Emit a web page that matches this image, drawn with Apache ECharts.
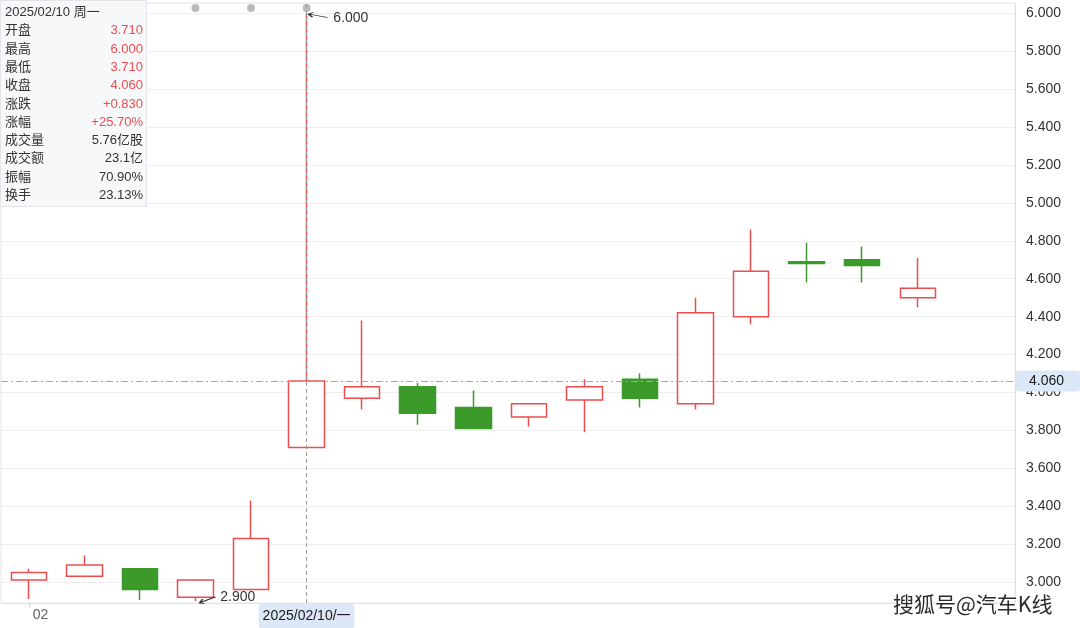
<!DOCTYPE html>
<html><head><meta charset="utf-8">
<script src="https://cdn.jsdelivr.net/npm/echarts@6/dist/echarts.min.js"></script>
<style>html,body{margin:0;padding:0;background:#fff;overflow:hidden}#c{width:1080px;height:628px}</style>
</head><body><div id="c"></div>
<script>
// ---- data ----
const dates  = ['2025/02/03','2025/02/04','2025/02/05','2025/02/06','2025/02/07','2025/02/10','2025/02/11','2025/02/12','2025/02/13','2025/02/14','2025/02/17','2025/02/18','2025/02/19','2025/02/20','2025/02/21','2025/02/24','2025/02/25'];
const opens  = [3.010, 3.030, 3.070, 2.920, 2.960, 3.710, 3.970, 4.030, 3.920, 3.870, 3.960, 4.070, 3.940, 4.400, 4.690, 4.700, 4.500];
const closes = [3.050, 3.090, 2.960, 3.010, 3.230, 4.060, 4.030, 3.890, 3.810, 3.940, 4.030, 3.970, 4.420, 4.640, 4.680, 4.670, 4.550];
const lows   = [2.910, 3.025, 2.905, 2.900, 2.960, 3.710, 3.910, 3.830, 3.810, 3.820, 3.790, 3.920, 3.910, 4.360, 4.580, 4.580, 4.450];
const highs  = [3.070, 3.140, 3.070, 3.010, 3.430, 6.000, 4.380, 4.050, 4.010, 3.940, 4.070, 4.100, 4.500, 4.860, 4.790, 4.770, 4.710];
const eventIdx = [3, 4, 5];
const selIdx = 5;
const selVolume = '5.76亿股';
const selAmount = '23.1亿';
const selTurnover = '23.13%';
const xMonthLabelIdx = [0];
const watermarkText = '搜狐号@汽车K线';

// ---- style ----
const FONT = "Arial, 'Liberation Sans', 'Noto Sans CJK SC', sans-serif";
const RED = '#ec4d4f', GREEN = '#3b9a29', DARK = '#333';
const yMin = 2.889, yMax = 6.055;
const weekCN = ['日','一','二','三','四','五','六'];
function wd(s){ const p = s.split('/').map(Number); return weekCN[new Date(p[0], p[1]-1, p[2]).getDay()]; }

const candleData = dates.map((d, i) => [i, opens[i], closes[i], lows[i], highs[i]]);
let maxIdx = 0, minIdx = 0;
highs.forEach((v, i) => { if (v > highs[maxIdx]) maxIdx = i; });
lows.forEach((v, i) => { if (v <= lows[minIdx]) minIdx = i; });

// info panel
const s = selIdx, prev = closes[s - 1];
const chg = closes[s] - prev, pct = chg / prev * 100, amp = (highs[s] - lows[s]) / prev * 100;
const pc = v => v > prev ? RED : (v < prev ? GREEN : DARK);
const sg = v => (v > 0 ? '+' : '');
const rows = [
  ['开盘', opens[s].toFixed(3), pc(opens[s])],
  ['最高', highs[s].toFixed(3), pc(highs[s])],
  ['最低', lows[s].toFixed(3), pc(lows[s])],
  ['收盘', closes[s].toFixed(3), pc(closes[s])],
  ['涨跌', sg(chg) + chg.toFixed(3), chg > 0 ? RED : GREEN],
  ['涨幅', sg(pct) + pct.toFixed(2) + '%', pct > 0 ? RED : GREEN],
  ['成交量', selVolume, DARK],
  ['成交额', selAmount, DARK],
  ['振幅', amp.toFixed(2) + '%', DARK],
  ['换手', selTurnover, DARK]
];
const PZ = 200;
const panelEls = [{ type: 'rect', z: PZ, shape: { x: 0.5, y: 0.5, width: 146, height: 206 }, style: { fill: '#f7f8fa', stroke: '#e1e4e9', lineWidth: 1 } },
  { type: 'text', z: PZ + 1, style: { text: dates[s] + ' 周' + wd(dates[s]), x: 5, y: 12.5, verticalAlign: 'middle', align: 'left', font: '13px ' + FONT, fill: DARK } }];
rows.forEach((r, i) => {
  const y = 12.5 + (i + 1) * 18.3;
  panelEls.push({ type: 'text', z: PZ + 1, style: { text: r[0], x: 5, y: y, verticalAlign: 'middle', align: 'left', font: '13px ' + FONT, fill: DARK } });
  panelEls.push({ type: 'text', z: PZ + 1, style: { text: r[1], x: 143, y: y, verticalAlign: 'middle', align: 'right', font: '13px ' + FONT, fill: r[2] } });
});

const chart = echarts.init(document.getElementById('c'));
chart.setOption({
  animation: false,
  textStyle: { fontFamily: FONT },
  grid: { left: 1, right: 65, top: 3, bottom: 25, show: true, borderColor: '#e3e6eb', borderWidth: 1, backgroundColor: 'transparent' },
  xAxis: {
    type: 'value', min: -0.5, max: 17.75,
    axisLine: { show: true, onZero: false, lineStyle: { color: '#dfe3ea' } },
    splitLine: { show: false },
    axisTick: { show: true, customValues: xMonthLabelIdx, length: 4, lineStyle: { color: '#cfd3da' } },
    axisLabel: { customValues: xMonthLabelIdx, formatter: v => dates[Math.round(v)] ? dates[Math.round(v)].slice(5, 7) : '', align: 'left', padding: [0, 0, 0, 4], margin: 5, color: '#666', fontSize: 14 },
    axisPointer: {
      show: true, status: 'show', value: selIdx, snap: false, triggerTooltip: false, type: 'line',
      lineStyle: { color: '#9a9a9a', type: [4, 3], width: 1 },
      label: { show: true, formatter: p => { const d = dates[Math.round(p.value)]; return d + '/' + wd(d); }, backgroundColor: '#dce8f8', color: '#1a1a1a', fontSize: 14, padding: [5, 4, 5, 4], margin: 1 }
    }
  },
  yAxis: {
    type: 'value', position: 'right', min: yMin, max: yMax, splitNumber: 16, minInterval: 0.2, maxInterval: 0.2,
    axisLine: { show: true, onZero: false, lineStyle: { color: '#dfe3ea' } },
    axisTick: { show: false },
    splitLine: { show: true, lineStyle: { color: '#eeeeee' } },
    axisLabel: { formatter: v => (Math.abs(v * 5 - Math.round(v * 5)) < 1e-6 ? v.toFixed(3) : ''), margin: 11, color: DARK, fontSize: 14 },
    axisPointer: {
      show: true, status: 'show', value: closes[selIdx], snap: false, triggerTooltip: false, type: 'line',
      lineStyle: { color: '#a8a8a8', type: [7, 3, 2, 3], width: 1 },
      label: { show: true, formatter: p => Number(p.value).toFixed(3), backgroundColor: '#dce8f8', color: '#1a1a1a', fontSize: 14, padding: [4, 16, 3, 13], margin: 1 }
    }
  },
  series: [
    {
      type: 'candlestick', data: candleData, barWidth: 36,
      itemStyle: { color: '#ffffff', color0: GREEN, borderColor: RED, borderColor0: GREEN, borderWidth: 1.5 },
      markPoint: {
        silent: true,
        itemStyle: { color: 'none', borderColor: '#333', borderWidth: 1.2 },
        label: { show: true, position: 'right', color: DARK, fontSize: 14, distance: 1 },
        data: [
          { coord: [maxIdx, highs[maxIdx]], symbol: 'path://M19,3.5 L0,0 M3.8,3.2 L0,0 L4.7,-1.7', symbolSize: [19, 5.2], symbolOffset: [11.5, 1.5], label: { formatter: highs[maxIdx].toFixed(3), offset: [0, 3] } },
          { coord: [minIdx, lows[minIdx]], symbol: 'path://M16,0 L0,6 M4.9,6.8 L0,6 L3.2,2.1', symbolSize: [16, 6.8], symbolOffset: [12, -0.6], label: { formatter: lows[minIdx].toFixed(3), offset: [0, -3.5] } }
        ]
      }
    },
    {
      type: 'scatter', data: eventIdx.map(i => [i, yMax]), symbolSize: 8, symbolOffset: [0, 5], clip: false, silent: true, z: 5,
      itemStyle: { color: '#a9a9a9' }
    }
  ],
  graphic: [
    { type: 'group', z: PZ, children: panelEls },
    { type: 'text', z: PZ, style: { text: watermarkText, x: 893, y: 604, verticalAlign: 'middle', align: 'left', font: "21px 'Noto Sans CJK SC', sans-serif", fill: '#2b2b2b', stroke: '#ffffff', lineWidth: 1 } }
  ]
});
</script></body></html>
